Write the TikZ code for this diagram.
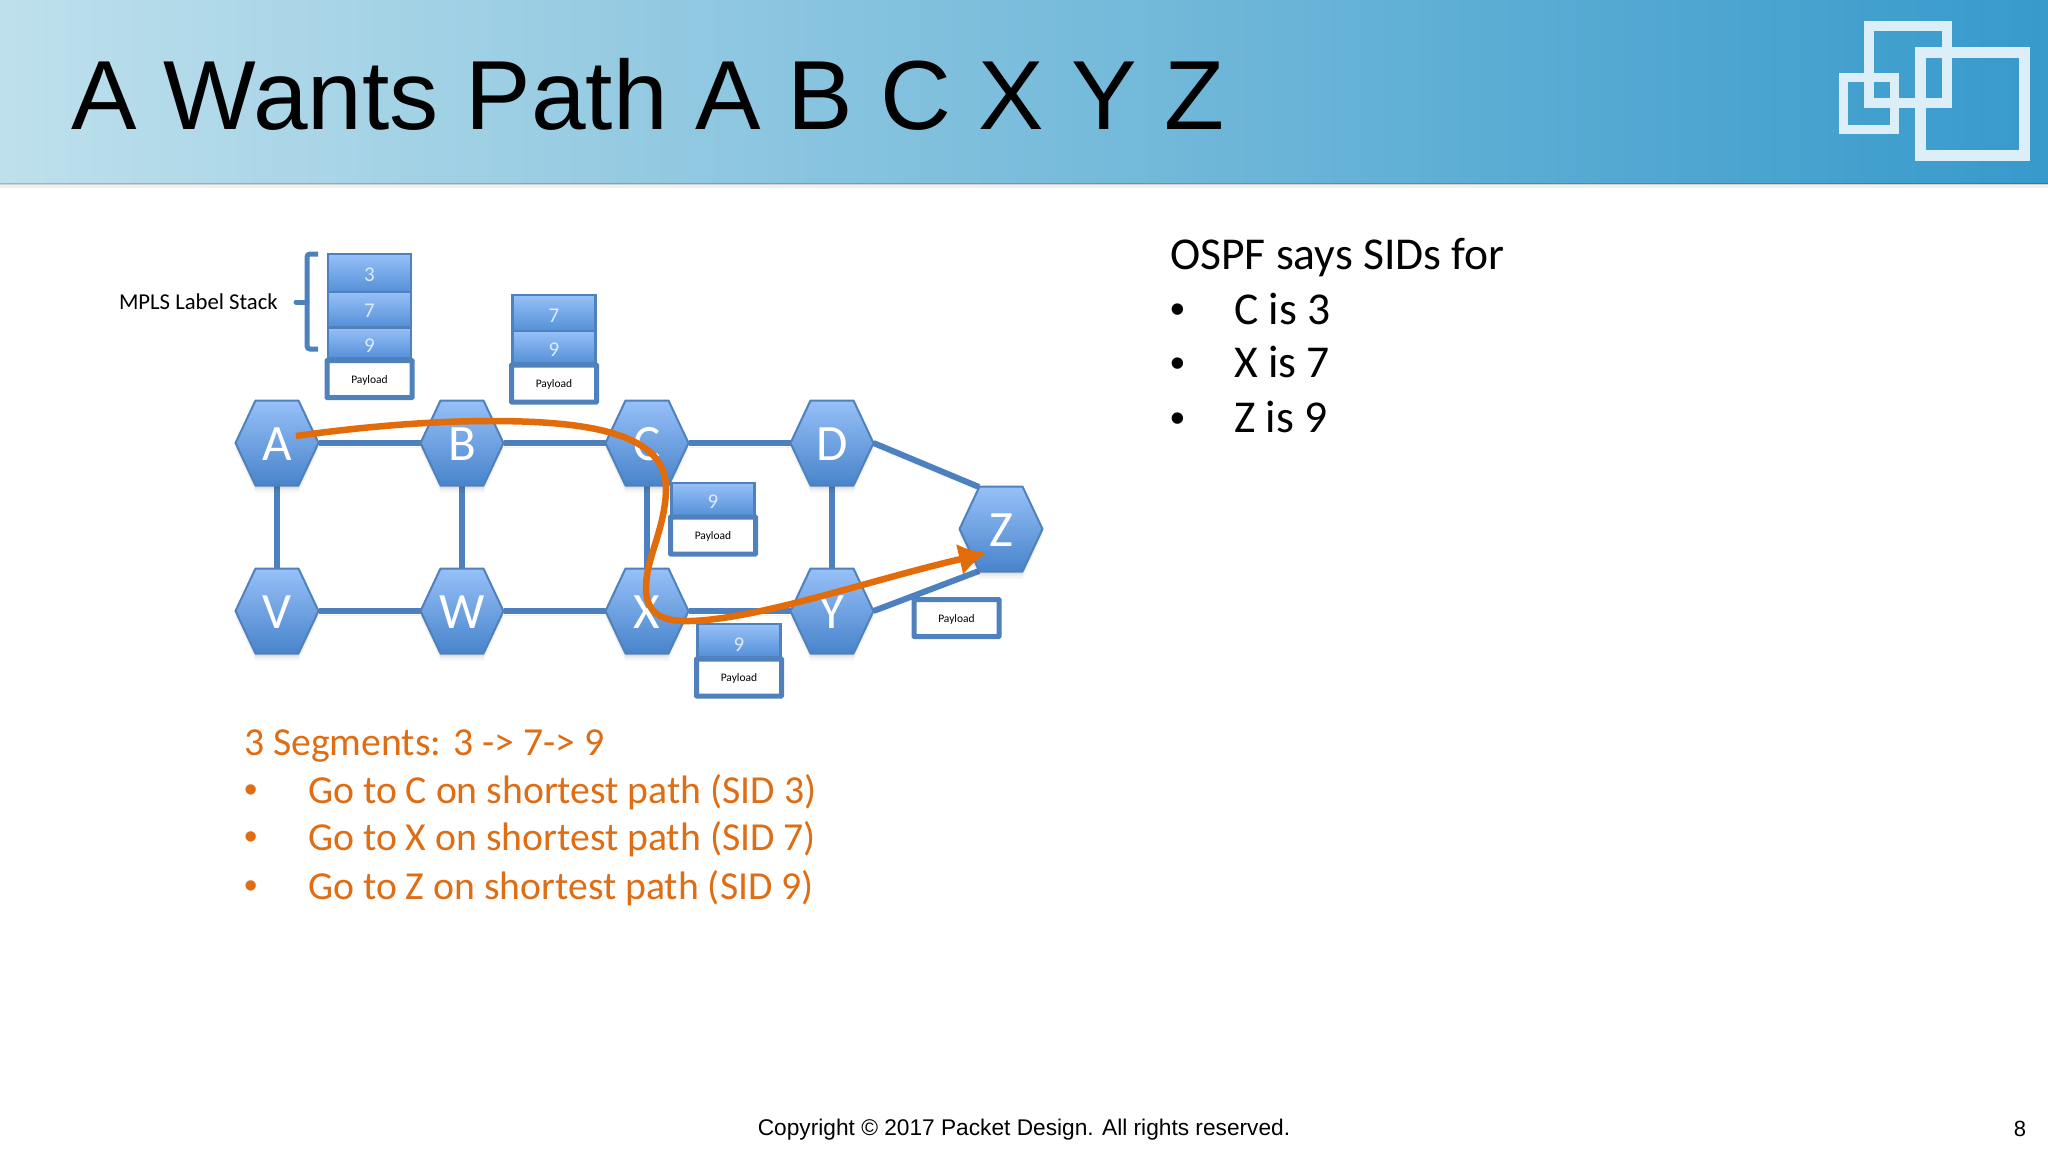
\documentclass[tikz,border=0pt]{standalone}
\usepackage{fontspec}
\setmainfont{Carlito}
\newfontfamily\arialf{Liberation Sans}
\usetikzlibrary{arrows.meta,backgrounds}
\newcommand{\fsz}[1]{\fontsize{#1}{#1}\selectfont}
\newcommand{\low}[2]{\raisebox{-#1pt}[\height][\depth]{#2}}
\definecolor{hexline}{HTML}{4F81BD}
\definecolor{linkc}{HTML}{4D80BE}
\definecolor{hextop}{HTML}{97C0F8}
\definecolor{hexbot}{HTML}{4884CB}
\definecolor{stkbot}{HTML}{5490D8}
\definecolor{pathor}{HTML}{E36C0A}
\definecolor{txtor}{HTML}{DF6D14}
\definecolor{logoc}{HTML}{DCEEF7}
\definecolor{digitc}{HTML}{DDEBFF}
\definecolor{hdrl}{HTML}{BEE0EC}
\definecolor{hdrm}{HTML}{8CC4E1}
\definecolor{hdrr}{HTML}{379ACB}
\tikzset{
  softshadow/.style={
    preaction={fill=black,fill opacity=.05,draw=none,transform canvas={yshift=-2pt}},
    preaction={fill=black,fill opacity=.05,draw=none,transform canvas={yshift=-4pt}},
    preaction={fill=black,fill opacity=.04,draw=none,transform canvas={yshift=-7pt}}},
  hexshape/.style={softshadow,draw=hexline,line width=2pt,top color=hextop,bottom color=hexbot,line join=round},
  hexlabel/.style={text=white,font=\fsz{51},inner sep=0pt,minimum width=83pt,minimum height=85pt,outer sep=0pt},
  link/.style={draw=linkc,line width=6pt,
    preaction={draw=black,draw opacity=.05,transform canvas={yshift=-4pt}}},
  stackbox/.style={draw=hexline,line width=2.5pt,top color=hextop,bottom color=stkbot,text=digitc,
    font=\fsz{21},inner sep=0pt,minimum width=83pt,outer sep=0pt},
  payload/.style={draw=hexline,line width=5pt,fill=white,text=black,font=\fsz{11.5},inner sep=0pt,
    minimum width=85pt,minimum height=37pt,outer sep=0pt,rounded corners=.5pt},
  ospf/.style={anchor=base west,inner sep=0pt,text=black,font=\fsz{45.6}},
  ospfdot/.style={anchor=base west,inner sep=0pt,text=black,font={\arialf\fsz{42}}},
  seg/.style={anchor=base west,inner sep=0pt,text=txtor,font=\fsz{39.7}},
  segdot/.style={anchor=base west,inner sep=0pt,text=txtor,font={\arialf\fsz{38}}},
  logobox/.style={draw=logoc,fill=none},
  route/.style={draw=pathor,line width=6.5pt,-{Latex[length=28pt,width=32pt]}}
}
\newcommand{\hexa}[4]{%
  \path[hexshape] ({#2-41.5},#3) -- ({#2-21.5},{#3-42.5}) -- ({#2+21.5},{#3-42.5}) -- ({#2+41.5},#3) -- ({#2+21.5},{#3+42.5}) -- ({#2-21.5},{#3+42.5}) -- cycle;
  \node[hexlabel] (#1) at (#2,#3) {\low{1.5}{#4}};}
\begin{document}
\begin{tikzpicture}[x=1pt,y=-1pt]
\useasboundingbox (0,0) rectangle (2048,1152);
\begin{scope}[on background layer]
  \fill[white] (0,0) rectangle (2048,1152);
\end{scope}
% header band
\shade[left color=hdrl,middle color=hdrm,right color=hdrr] (0,0) rectangle (2048,183);
\fill[black,opacity=.18] (0,183) rectangle (2048,185);
\fill[black,opacity=.06] (0,185) rectangle (2048,188);
\node[anchor=base west,inner sep=0pt,text=black,font={\arialf\fsz{98.2}}] (title) at (71,129) {A Wants Path A B C X Y Z};
% logo
\draw[logobox,line width=10pt] (1869,26) rectangle (1947,103);
\draw[logobox,line width=9pt] (1843.5,77.5) rectangle (1894.5,129.5);
\draw[logobox,line width=11pt] (1920.5,52.5) rectangle (2024,155.5);
% network nodes
\hexa{A}{277}{443}{A}
\hexa{B}{462}{443}{B}
\hexa{C}{647}{443}{C}
\hexa{D}{832}{443}{D}
\hexa{V}{277}{611}{V}
\hexa{W}{462}{611}{W}
\hexa{X}{647}{611}{X}
\hexa{Y}{832}{611}{Y}
\hexa{Z}{1001}{529}{Z}
\coordinate (Ztop) at (979,487);
\coordinate (Zbot) at (979,571);
\begin{scope}[on background layer]
  \draw[link] (A) -- (B);
  \draw[link] (B) -- (C);
  \draw[link] (C) -- (D);
  \draw[link] (V) -- (W);
  \draw[link] (W) -- (X);
  \draw[link] (X) -- (Y);
  \draw[link] (A) -- (V);
  \draw[link] (B) -- (W);
  \draw[link] (C) -- (X);
  \draw[link] (D) -- (Y);
  \draw[link] (D.east) -- (Ztop);
  \draw[link] (Y.east) -- (Zbot);
\end{scope}
% first stack
\node[stackbox,minimum height=38pt] (sa3) at (369.5,273) {\low{1.3}{3}};
\node[stackbox,minimum height=35pt] (sa7) at (369.5,309.5) {\low{1.3}{7}};
\node[stackbox,minimum height=31pt] (sa9) at (369.5,343) {\low{2.6}{9}};
\node[payload] (pa) at (369.5,379) {\low{1.3}{Payload}};
% second stack
\node[stackbox,minimum height=36pt] (sb7) at (554,313) {\low{2.6}{7}};
\node[stackbox,minimum height=32pt] (sb9) at (554,347) {\low{2.6}{9}};
\node[payload] (pb) at (554,383.5) {\low{1.3}{Payload}};
% third stack
\node[stackbox,minimum height=33pt] (sc9) at (713,499.5) {\low{2.6}{9}};
\node[payload] (pc) at (713,535.5) {\low{1.3}{Payload}};
% fourth stack
\node[stackbox,minimum height=33pt] (sd9) at (739,640.5) {\low{3.9}{9}};
\node[payload] (pd) at (739,677.5) {\low{1.3}{Payload}};
% lone payload
\node[payload] (pe) at (956.5,618) {\low{1.3}{Payload}};
% label stack brace
\node[anchor=east,inner sep=0pt,text=black,font=\fsz{22.7}] (mpls) at (278,302) {MPLS Label Stack};
\draw[draw=linkc,line width=5pt,rounded corners=3pt] (318,254) coordinate (bt) -- (307,254) -- (307,349) -- (318,349);
\draw[draw=linkc,line width=5pt,line cap=round] (307,302) -- (296,302);
% orange route
\coordinate (rs) at (296,436);
\coordinate (re) at (987,553);
\draw[route] (rs) .. controls (360,427) and (430,421) .. (490,421)
  .. controls (585,421) and (668,432) .. (666,490)
  .. controls (665,530) and (645,560) .. (646,590)
  .. controls (647,612) and (660,622) .. (690,621)
  .. controls (760,619) and (870,580) .. (re);
% right text
\node[ospf] (o1) at (1170,269) {OSPF says SIDs for};
\node[ospfdot] (ob1) at (1170,323) {•};
\node[ospf] (o2) at (1234,324) {C is 3};
\node[ospfdot] (ob2) at (1170,377) {•};
\node[ospf] (o3) at (1234,377) {X is 7};
\node[ospfdot] (ob3) at (1170,432) {•};
\node[ospf] (o4) at (1234,432) {Z is 9};
% segments text
\node[seg] (s0) at (244,755) {3 Segments: 3 -> 7-> 9};
\node[segdot] (sb1) at (244,802) {•};
\node[seg] (s1) at (308,803) {Go to C on shortest path (SID 3)};
\node[segdot] (sb2) at (244,849) {•};
\node[seg] (s2) at (308,850) {Go to X on shortest path (SID 7)};
\node[segdot] (sb3) at (244,898) {•};
\node[seg] (s3) at (308,899) {Go to Z on shortest path (SID 9)};
% footer
\node[text=black,inner sep=0pt,font={\arialf\fsz{22.7}}] (copy) at (1024,1129.5) {Copyright © 2017 Packet Design. All rights reserved.};
\node[text=black,inner sep=0pt,font={\arialf\fsz{22}}] (page) at (2020,1129) {8};
\end{tikzpicture}
\end{document}
